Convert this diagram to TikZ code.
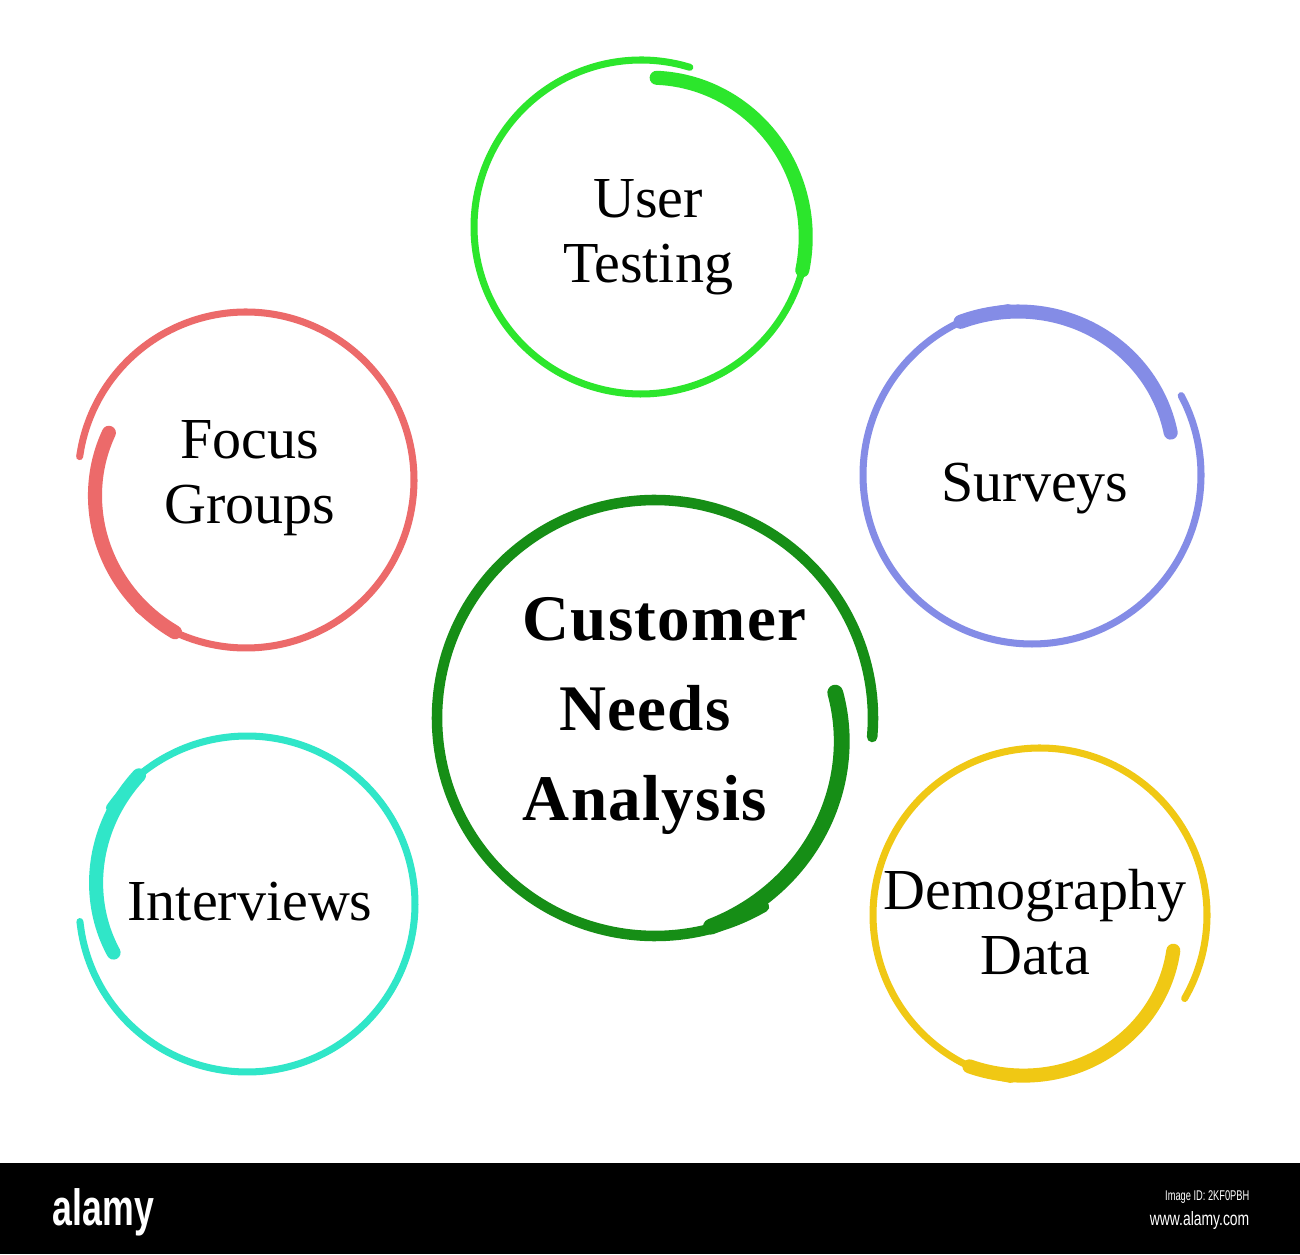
\documentclass[tikz,border=0pt]{standalone}
\usepackage{fontspec}
\usepackage{graphicx}
\setmainfont{Liberation Serif}
\newfontfamily\logofont{Liberation Sans}

\definecolor{usergreen}{HTML}{2CE62C}
\definecolor{focusred}{HTML}{EC6A6A}
\definecolor{surveyblue}{HTML}{848CE6}
\definecolor{needsgreen}{HTML}{168E16}
\definecolor{interviewcyan}{HTML}{30E6C8}
\definecolor{demoyellow}{HTML}{F0C814}

% brush ring: centre, style, from angle, to angle, radius from, radius to
\newcommand{\brush}[6]{%
  \draw[#2, shift={(#1)}] plot[domain=#3:#4, samples=90, smooth]
    ({(#5+(#6-#5)*(\x-(#3))/((#4)-(#3)))*cos(\x)},
     {(#5+(#6-#5)*(\x-(#3))/((#4)-(#3)))*sin(\x)});}

\begin{document}
\begin{tikzpicture}[x=0.01cm, y=0.01cm,
    thinbrush/.style={line width=2pt, line cap=round},
    thickbrush/.style={line width=4pt, line cap=round},
    txt/.style={font=\fontsize{16.5}{18.5}\selectfont, align=center},
    bigtxt/.style={font=\fontsize{18.5}{25.6}\selectfont\bfseries\addfontfeatures{LetterSpace=2}, align=center}]

    \fill[white] (0,0) rectangle (1300,1254);
    \useasboundingbox (0,0) rectangle (1300,1254);

    % ring centres
    \coordinate (ut) at (641,1027);
    \coordinate (fg) at (246,774);
    \coordinate (sv) at (1032,779);
    \coordinate (cn) at (655,536);
    \coordinate (iv) at (247,350);
    \coordinate (dd) at (1040,339);

    % rings
    \brush{ut}{usergreen, thinbrush}{73}{360}{167}{167}
    \brush{ut}{usergreen, thickbrush}{345}{444}{167}{150}
    \brush{fg}{focusred, thinbrush}{172}{-130}{168}{168}
    \brush{fg}{focusred, thickbrush}{-115}{-199}{168}{145}
    \brush{sv}{surveyblue, thinbrush}{28}{-262}{169}{169}
    \brush{sv}{surveyblue, thickbrush}{-245}{-343}{169}{145}
    \brush{cn}{needsgreen, thinbrush, line width=3pt}{-5}{300}{218}{218}
    \brush{cn}{needsgreen, thickbrush, line width=4.5pt}{285}{368}{216}{182}
    \brush{iv}{interviewcyan, thinbrush}{186}{505}{168}{168}
    \brush{iv}{interviewcyan, thickbrush}{490}{560}{168}{142}
    \brush{dd}{demoyellow, thinbrush}{-30}{260}{167}{167}
    \brush{dd}{demoyellow, thickbrush}{245}{345}{167}{138}

    % labels
    \node[txt] (usertesting) at (648,1017) {User\\Testing};
    \node[txt] (focusgroups) at (250,776) {Focus\\Groups};
    \node[txt, anchor=base] (surveys) at (1035,752) {Surveys};
    \node[bigtxt] (needs) at (645,538) {\hspace*{0.6em}Customer\\Needs\\Analysis};
    \node[txt, anchor=base] (interviews) at (250,334) {Interviews};
    \node[txt] (demography) at (1035,332) {Demography\\Data};

    % stock bar
    \fill[black] (0,0) rectangle (1300,91);
    \node[anchor=base west, white, inner sep=0pt, font=\logofont\bfseries\fontsize{14.5}{16}\selectfont] (logo) at (52,29) {\scalebox{0.7}[1]{alamy}};
    \node[anchor=base east, white, inner sep=0pt, font=\logofont\fontsize{4}{5}\selectfont] (imageid) at (1250,54) {\scalebox{0.66}[1]{Image ID: 2KF0PBH}};
    \node[anchor=base east, white, inner sep=0pt, font=\logofont\fontsize{5.5}{6}\selectfont] (site) at (1250,29) {\scalebox{0.72}[1]{www.alamy.com}};
\end{tikzpicture}
\end{document}
